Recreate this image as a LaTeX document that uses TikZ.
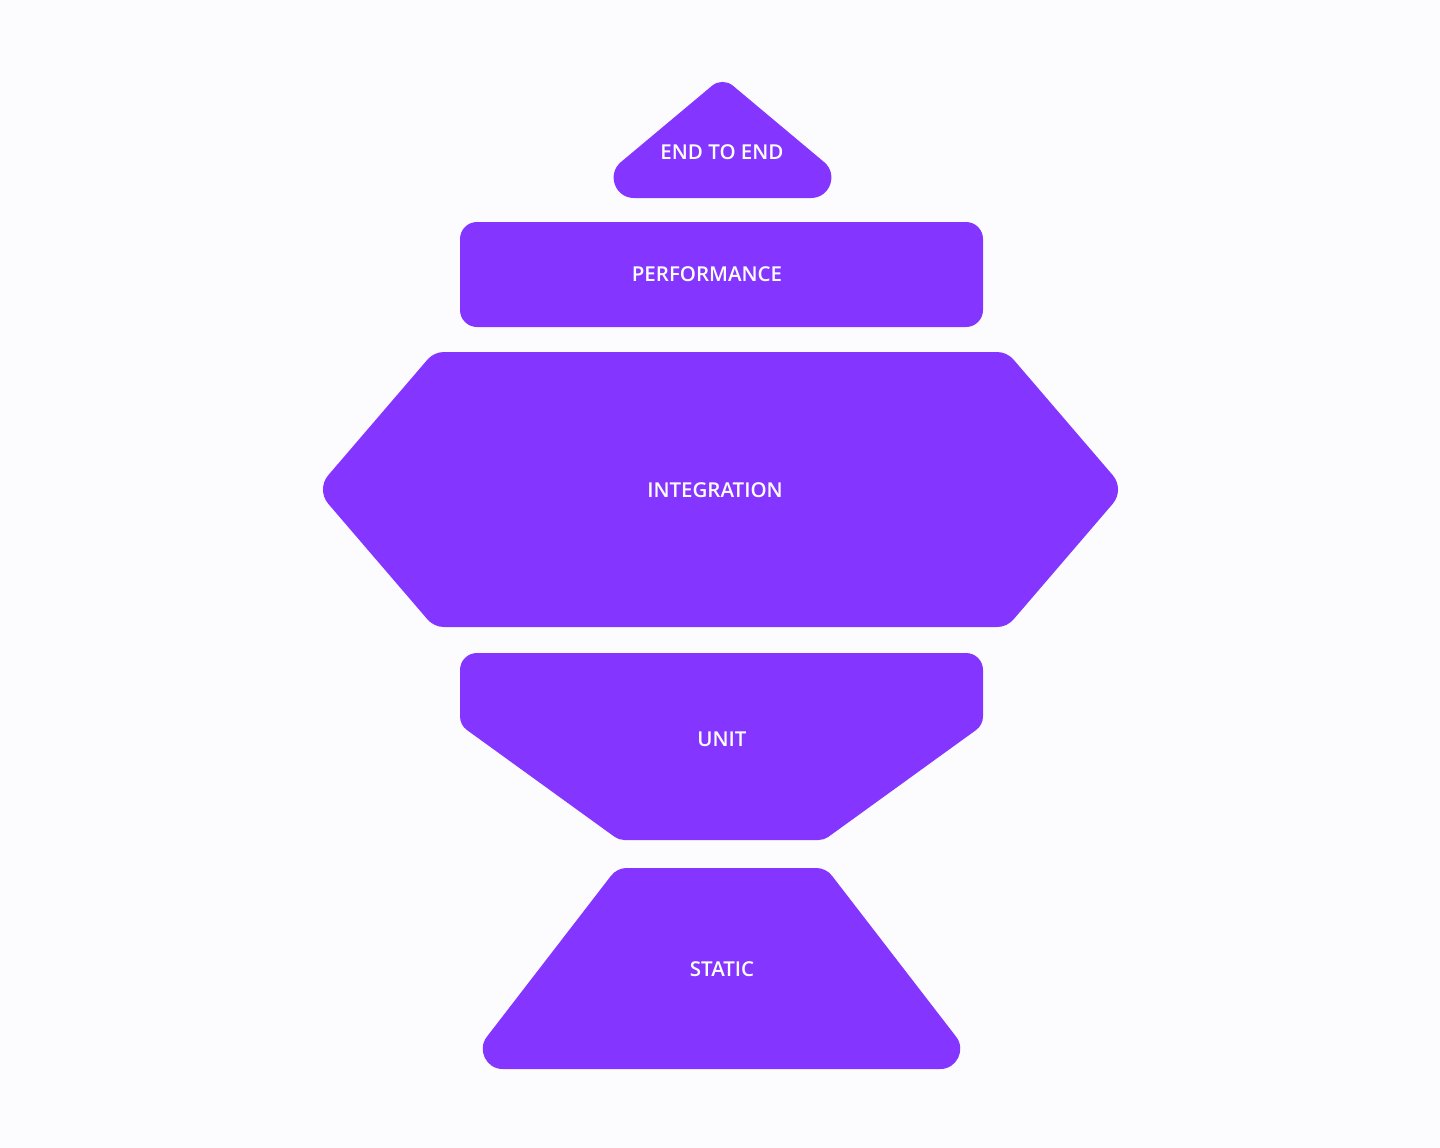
\documentclass[tikz,border=0pt]{standalone}
\usepackage{fontspec}
\IfFontExistsTF{Open Sans SemiBold}{\setmainfont{Open Sans}[BoldFont={Open Sans SemiBold}]}{%
  \IfFontExistsTF{Open Sans Semibold}{\setmainfont{Open Sans}[BoldFont={Open Sans Semibold}]}{\setmainfont{Open Sans}}}
\usetikzlibrary{calc}
\definecolor{tierpurple}{HTML}{8435FF}
\definecolor{paper}{HTML}{FCFCFE}
% round corner at #1 between #2 (before) and #3 (after): cut #4, control offset #5
\newcommand{\tiercorner}[5]{-- ($(#1)!#4pt!(#2)$) .. controls ($(#1)!#5pt!(#2)$) and ($(#1)!#5pt!(#3)$) .. ($(#1)!#4pt!(#3)$)}
\tikzset{
x=1pt, y=-1pt, % one unit is one pixel of the layout, y runs downwards
tier/.style={fill=tierpurple}, % sets the look of each layer
tierlabel/.style={text=white, font=\bfseries\fontsize{20.5}{20.5}\selectfont, inner sep=0pt}, % sets the text on each layer
}
\begin{document}
\begin{tikzpicture}
    \fill[paper] (0,0) rectangle (1440,1148);
    \useasboundingbox (0,0) rectangle (1440,1148);
    % corners of the layers
    \coordinate (e1) at (722.5,77);   \coordinate (e2) at (867,198);   \coordinate (e3) at (578,198);
    \coordinate (i1) at (434,352);    \coordinate (i2) at (1007,352);  \coordinate (i3) at (1125,489.5);
    \coordinate (i4) at (1007,627);   \coordinate (i5) at (434,627);   \coordinate (i6) at (316,489.5);
    \coordinate (u1) at (460,653);    \coordinate (u2) at (983,653);   \coordinate (u3) at (983,725);
    \coordinate (u4) at (824,840);    \coordinate (u5) at (619,840);   \coordinate (u6) at (460,725);
    \coordinate (s1) at (617,868);    \coordinate (s2) at (826,868);   \coordinate (s3) at (981,1069);
    \coordinate (s4) at (462,1069);
    % layers, top to bottom
    \fill[tier] ($(e1)!13.5pt!(e2)$) \tiercorner{e2}{e1}{e3}{56}{37} \tiercorner{e3}{e2}{e1}{56}{37}
        \tiercorner{e1}{e3}{e2}{13.5}{5.7} -- cycle;
    \fill[tier, rounded corners=17pt] (460,222) rectangle (983,327);
    \fill[tier] ($(i1)!10.1pt!(i2)$) \tiercorner{i2}{i1}{i3}{10.1}{3.7} \tiercorner{i3}{i2}{i4}{18.9}{8}
        \tiercorner{i4}{i3}{i5}{10.1}{3.7} \tiercorner{i5}{i4}{i6}{10.1}{3.7} \tiercorner{i6}{i5}{i1}{18.9}{8}
        \tiercorner{i1}{i6}{i2}{10.1}{3.7} -- cycle;
    \fill[tier] ($(u1)!17pt!(u2)$) \tiercorner{u2}{u1}{u3}{17}{7.6} \tiercorner{u3}{u2}{u4}{8.7}{3.2}
        \tiercorner{u4}{u3}{u5}{5.5}{1.9} \tiercorner{u5}{u4}{u6}{5.5}{1.9} \tiercorner{u6}{u5}{u1}{8.7}{3.2}
        \tiercorner{u1}{u6}{u2}{17}{7.6} -- cycle;
    \fill[tier] ($(s1)!9.8pt!(s2)$) \tiercorner{s2}{s1}{s3}{9.8}{3.6} \tiercorner{s3}{s2}{s4}{40.7}{24.2}
        \tiercorner{s4}{s3}{s1}{40.7}{24.2} \tiercorner{s1}{s4}{s2}{9.8}{3.6} -- cycle;
    % labels
    \node[tierlabel] (e2e) at (722,152) {END TO END};
    \node[tierlabel] (perf) at (707,274) {PERFORMANCE};
    \node[tierlabel] (integ) at (715,490) {INTEGRATION};
    \node[tierlabel] (unit) at (722,739) {UNIT};
    \node[tierlabel] (static) at (722,969) {STATIC};
\end{tikzpicture}
\end{document}
